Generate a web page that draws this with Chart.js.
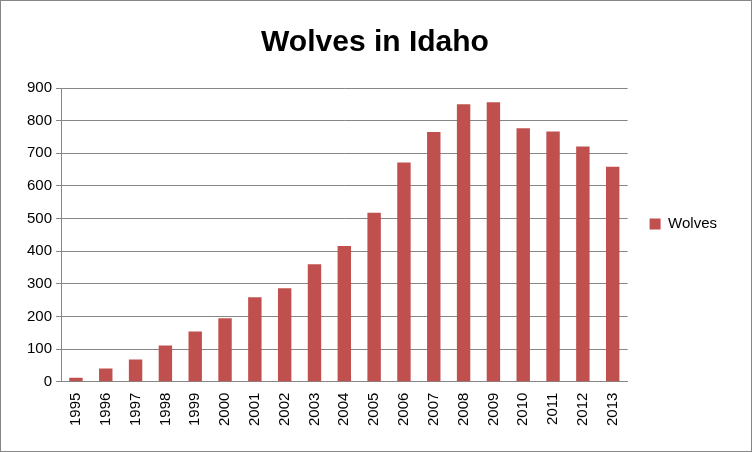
<!DOCTYPE html>
<html>
<head>
<script src="https://cdn.jsdelivr.net/npm/chart.js@4"></script>
<style>
  body { margin: 0; background: #fff; }
  #wrap { width: 750px; height: 450px; border: 1px solid #868686; position: relative; }
</style>
</head>
<body>
<div id="wrap"><canvas id="c" width="750" height="450"></canvas></div>
<script>
const years = ["1995","1996","1997","1998","1999","2000","2001","2002","2003","2004","2005","2006","2007","2008","2009","2010","2011","2012","2013"];
const wolves = [12, 40, 68, 111, 154, 194, 259, 286, 360, 416, 518, 672, 765, 850, 856, 777, 767, 721, 659];
const yTicks = [0, 100, 200, 300, 400, 500, 600, 700, 800, 900];

const font = { family: "'Liberation Sans', Arial, sans-serif" };

new Chart(document.getElementById("c"), {
  type: "bar",
  data: {
    labels: years,
    datasets: [{
      label: "Wolves",
      data: wolves,
      backgroundColor: "#C0504D",
      barPercentage: 0.45,
      categoryPercentage: 1,
    }],
  },
  options: {
    responsive: false,
    animation: false,
    layout: { padding: { top: 18, left: 22, right: 24, bottom: 22 } },
    plugins: {
      title: {
        display: true,
        text: "Wolves in Idaho",
        color: "#000",
        font: { ...font, size: 30, weight: "bold" },
        padding: { top: 6, bottom: 27 },
      },
      legend: {
        position: "right",
        labels: { color: "#000", font: { ...font, size: 15 }, boxWidth: 11, boxHeight: 11, padding: 22 },
      },
      tooltip: { enabled: false },
    },
    scales: {
      x: {
        grid: { display: false },
        border: { color: "#868686" },
        ticks: { color: "#000", font: { ...font, size: 15 }, maxRotation: 90, minRotation: 90 },
      },
      y: {
        min: 0,
        max: 900,
        afterBuildTicks: (s) => { s.ticks = yTicks.map((v) => ({ value: v })); },
        grid: { color: "#868686", drawTicks: true, tickLength: 5 },
        border: { color: "#868686" },
        ticks: { color: "#000", font: { ...font, size: 15 }, padding: 4 },
      },
    },
  },
});
</script>
</body>
</html>
